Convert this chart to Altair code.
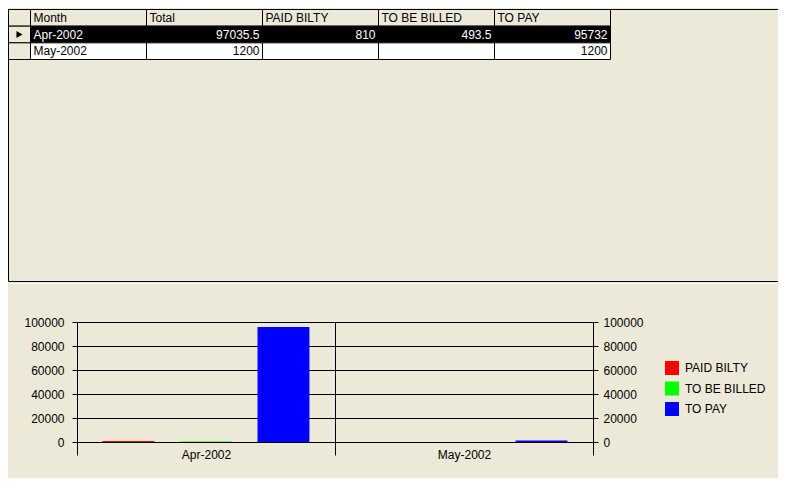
import altair as alt
import pandas as pd

# ---------------- data ----------------
months = ["Apr-2002", "May-2002"]
totals = [97035.5, 1200]
paid_bilty = [810, None]
to_be_billed = [493.5, None]
to_pay = [95732, 1200]
series_names = ["PAID BILTY", "TO BE BILLED", "TO PAY"]
series_colors = ["#FF0000", "#00FF00", "#0000FF"]
table_columns = ["Month", "Total", "PAID BILTY", "TO BE BILLED", "TO PAY"]
y_ticks = [0, 20000, 40000, 60000, 80000, 100000]
selected_month = "Apr-2002"

# ---------------- style / layout ----------------
BG = "#ECE9D8"
FONT = "Liberation Sans"
PLOT_W, PLOT_H = 516, 120
PAD = {"left": 69, "top": 314, "right": 185, "bottom": 36}
COL_RANGE = [-46.5, 533.5]   # table data columns, relative to plot origin
SEL_RANGE = [-68.5, -46.5]   # row-selector column
ROW_RANGE = [-312.5, -262.5] # header + 2 rows
FRAME = {"left": -68.5, "top": -312.5, "bottom": -40.5,
         "right": PLOT_W + PAD["right"]}
COL_W = (COL_RANGE[1] - COL_RANGE[0]) / len(table_columns)
CELL_PAD = 3

# ---------------- tables built from the arrays ----------------
bar_rows = []
for i, m in enumerate(months):
    for s, vals in zip(series_names, [paid_bilty, to_be_billed, to_pay]):
        if vals[i] is not None:
            bar_rows.append({"Month": m, "series": s, "value": vals[i]})
bars_df = pd.DataFrame(bar_rows)


def fmt(v):
    if v is None:
        return ""
    return str(int(v)) if float(v).is_integer() else str(v)


row_keys = ["header"] + months
cells = []
for c in table_columns:
    cells.append({"row": "header", "col": c, "text": c, "side": "left", "bg": BG, "fg": "black"})
for i, m in enumerate(months):
    sel = m == selected_month
    bg = "black" if sel else "white"
    fg = "white" if sel else "black"
    vals = [m, totals[i], paid_bilty[i], to_be_billed[i], to_pay[i]]
    for c, v in zip(table_columns, vals):
        cells.append({
            "row": m, "col": c,
            "text": v if c == "Month" else fmt(v),
            "side": "left" if c == "Month" else "right",
            "bg": bg, "fg": fg,
        })
cells_df = pd.DataFrame(cells)
sel_df = pd.DataFrame({"row": row_keys, "sel": ["sel"] * len(row_keys),
                       "marker": [False] + [m == selected_month for m in months]})

col_scale = alt.Scale(domain=table_columns, range=COL_RANGE, paddingInner=0, paddingOuter=0)
sel_scale = alt.Scale(domain=["sel"], range=SEL_RANGE, paddingInner=0, paddingOuter=0)
row_scale = alt.Scale(domain=row_keys, range=ROW_RANGE, paddingInner=0, paddingOuter=0)

# ---------------- table layers ----------------
one = pd.DataFrame({"k": [0]})
frame_top = alt.Chart(one).mark_rule(color="black", strokeWidth=1).encode(
    x=alt.value(FRAME["left"]), x2=alt.value(FRAME["right"]), y=alt.value(FRAME["top"]))
frame_bottom = alt.Chart(one).mark_rule(color="black", strokeWidth=1).encode(
    x=alt.value(FRAME["left"]), x2=alt.value(FRAME["right"]), y=alt.value(FRAME["bottom"]))
frame_left = alt.Chart(one).mark_rule(color="black", strokeWidth=1).encode(
    x=alt.value(FRAME["left"]), y=alt.value(FRAME["top"]), y2=alt.value(FRAME["bottom"]))
frame_hl = alt.Chart(one).mark_rule(color="#F8F6EE", strokeWidth=1).encode(
    x=alt.value(FRAME["left"]), x2=alt.value(FRAME["right"]), y=alt.value(FRAME["bottom"] + 2))

cell_rects = alt.Chart(cells_df).mark_rect(stroke="black", strokeWidth=1).encode(
    x=alt.X("col:N", scale=col_scale, axis=None),
    y=alt.Y("row:N", scale=row_scale, axis=None),
    fill=alt.Fill("bg:N", scale=None),
)
sel_rects = alt.Chart(sel_df).mark_rect(stroke="black", strokeWidth=1, fill=BG).encode(
    x=alt.X("sel:N", scale=sel_scale, axis=None),
    y=alt.Y("row:N", scale=row_scale, axis=None),
)
sel_marker = alt.Chart(sel_df).transform_filter("datum.marker").mark_point(
    shape="triangle-right", filled=True, fill="black", size=50, strokeWidth=0, opacity=1
).encode(
    x=alt.X("sel:N", scale=sel_scale, axis=None),
    y=alt.Y("row:N", scale=row_scale, axis=None),
)
text_left = alt.Chart(cells_df).transform_filter("datum.side == 'left'").mark_text(
    align="left", baseline="middle", dx=-COL_W / 2 + CELL_PAD, fontSize=12, font=FONT
).encode(
    x=alt.X("col:N", scale=col_scale, axis=None),
    y=alt.Y("row:N", scale=row_scale, axis=None),
    text="text:N",
    fill=alt.Fill("fg:N", scale=None),
)
text_right = alt.Chart(cells_df).transform_filter("datum.side == 'right'").mark_text(
    align="right", baseline="middle", dx=COL_W / 2 - CELL_PAD, fontSize=12, font=FONT
).encode(
    x=alt.X("col:N", scale=col_scale, axis=None),
    y=alt.Y("row:N", scale=row_scale, axis=None),
    text="text:N",
    fill=alt.Fill("fg:N", scale=None),
)

# ---------------- bar chart ----------------
x_scale = alt.Scale(domain=months, paddingInner=0, paddingOuter=0)
y_scale = alt.Scale(domain=[0, 100000], nice=False)
off = alt.XOffset("series:N", scale=alt.Scale(domain=series_names, paddingInner=0.33, paddingOuter=0.33))

bars = alt.Chart(bars_df).mark_bar().encode(
    x=alt.X("Month:N", scale=x_scale, title=None, axis=alt.Axis(
        orient="bottom", tickBand="extent", grid=True, gridColor="black", gridOpacity=1,
        tickSize=13, tickColor="black", domain=False, labelPadding=-6, labelFontSize=12,
        labelColor="black", labelFont=FONT, labelAngle=0)),
    xOffset=off,
    y=alt.Y("value:Q", scale=y_scale, title=None, axis=alt.Axis(
        orient="left", values=y_ticks, format="d", grid=True, gridColor="black", gridOpacity=1,
        tickSize=5, tickColor="black", domain=False, labelPadding=8, labelFontSize=12,
        labelColor="black", labelFont=FONT)),
    color=alt.Color("series:N", scale=alt.Scale(domain=series_names, range=series_colors),
                    legend=alt.Legend(title=None, orient="none", legendX=588, legendY=39,
                                      symbolType="square", symbolSize=196, symbolStrokeWidth=0,
                                      labelFontSize=12, labelColor="black", labelFont=FONT,
                                      labelOffset=6, rowPadding=6.5)),
)
right_axis = alt.Chart(bars_df).mark_bar(opacity=0).encode(
    x=alt.X("Month:N", scale=x_scale, axis=None),
    xOffset=off,
    y=alt.Y("value:Q", scale=y_scale, title=None, axis=alt.Axis(
        orient="right", values=y_ticks, format="d", grid=False,
        tickSize=5, tickColor="black", domain=False, labelPadding=5, labelFontSize=12,
        labelColor="black", labelFont=FONT)),
)

chart = alt.layer(
    bars, right_axis, frame_hl, frame_top, frame_bottom, frame_left,
    cell_rects, sel_rects, sel_marker, text_left, text_right
).resolve_scale(x="independent", y="independent").properties(
    width=PLOT_W, height=PLOT_H,
    autosize=alt.AutoSizeParams(type="none"),
    padding=PAD,
).configure(background=BG, font=FONT).configure_view(strokeOpacity=0)

chart.save("out.html", embed_options={"renderer": "svg", "actions": False})
